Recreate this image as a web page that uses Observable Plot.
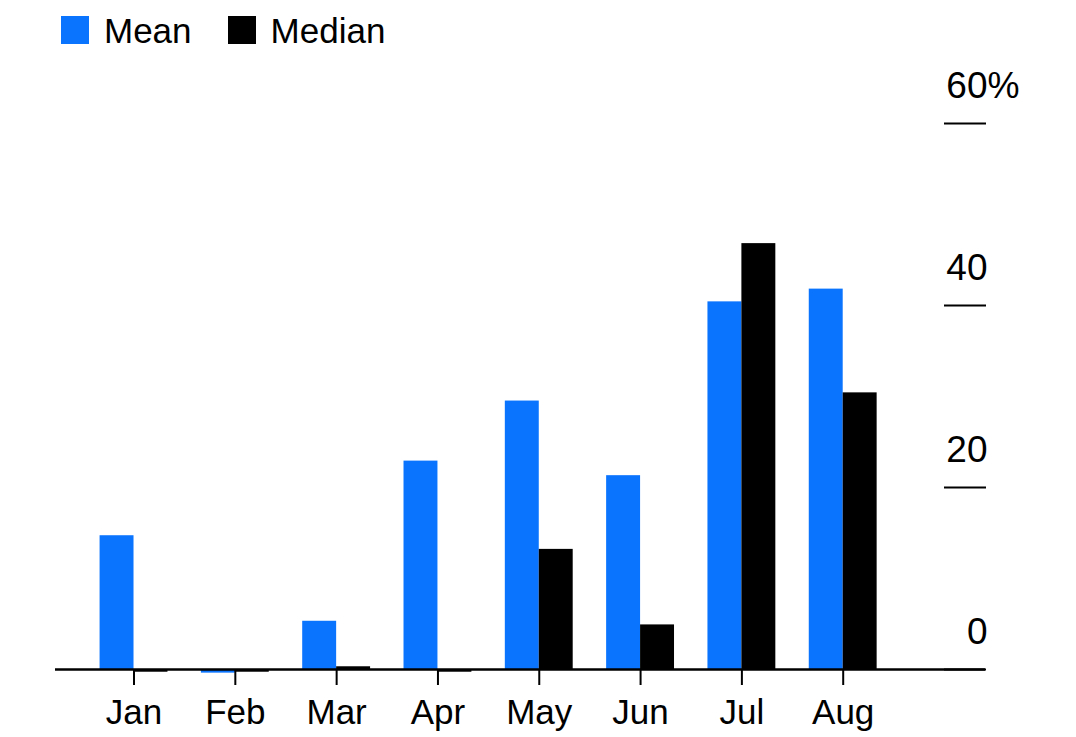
<!DOCTYPE html>
<html>
<head>
<meta charset="utf-8">
<script src="https://cdn.jsdelivr.net/npm/d3@7"></script>
<script src="https://cdn.jsdelivr.net/npm/@observablehq/plot@0.6"></script>
<style>
  body { margin: 0; background: #fff; font-family: "Liberation Sans", Arial, sans-serif; color: #000; }
  #legend { height: 60px; display: flex; align-items: center; padding-left: 61px; box-sizing: border-box; font-size: 35px; line-height: 1; }
  .item { display: flex; align-items: center; margin-right: 36px; }
  .swatch { width: 28px; height: 28px; margin-right: 15px; }
  #chart svg { display: block; }
</style>
</head>
<body>
<div id="legend"></div>
<div id="chart"></div>
<script>
const months = ["Jan", "Feb", "Mar", "Apr", "May", "Jun", "Jul", "Aug"];
const meanValues = [14.7, -0.4, 5.3, 22.9, 29.5, 21.3, 40.4, 41.8];
const medianValues = [-0.3, -0.3, 0.3, -0.3, 13.2, 4.9, 46.8, 30.4];
const seriesNames = ["Mean", "Median"];
const seriesColors = ["#0a74ff", "#000000"];
const yTicks = [0, 20, 40, 60];
const pctTick = [60];

const data = months.flatMap((m, i) => [
  {month: m, i, series: seriesNames[0], value: meanValues[i]},
  {month: m, i, series: seriesNames[1], value: medianValues[i]}
]);

// legend
const legend = document.getElementById("legend");
seriesNames.forEach((s, k) => {
  const it = document.createElement("div");
  it.className = "item";
  const sw = document.createElement("div");
  sw.className = "swatch";
  sw.style.background = seriesColors[k];
  const tx = document.createElement("span");
  tx.textContent = s;
  it.appendChild(sw); it.appendChild(tx);
  legend.appendChild(it);
});

const barWidth = 0.335;
const font = "'Liberation Sans', Arial, sans-serif";

const chart = Plot.plot({
  width: 1076,
  height: 677,
  marginTop: 63,
  marginBottom: 68,
  marginLeft: 55,
  marginRight: 133,
  style: {fontFamily: font, fontSize: "35px", color: "#000", background: "#fff"},
  x: {type: "linear", domain: [-0.775, 7.99]},
  y: {domain: [0, 60]},
  color: {domain: seriesNames, range: seriesColors},
  marks: [
    Plot.rectY(data, {
      x1: d => d.series === "Mean" ? d.i - barWidth : d.i,
      x2: d => d.series === "Mean" ? d.i : d.i + barWidth,
      y1: 0,
      y2: "value",
      fill: "series"
    }),
    Plot.ruleY([0], {stroke: "#000", strokeWidth: 2.5, insetRight: -42}),
    Plot.axisX(d3.range(months.length), {
      tickFormat: i => months[i], tickSize: 16, tickPadding: 14, strokeWidth: 2, fontSize: 35, label: null
    }),
    Plot.axisY(yTicks, {
      anchor: "right", tickSize: 42, strokeWidth: 2, tickFormat: () => "", label: null
    }),
    Plot.text(yTicks, {
      y: d => d, text: d => String(d), frameAnchor: "right", dx: 44, dy: -37,
      textAnchor: "end", fontSize: 37, fill: "#000"
    }),
    Plot.text(pctTick, {
      y: d => d, text: () => "%", frameAnchor: "right", dx: 44, dy: -37,
      textAnchor: "start", fontSize: 36, fill: "#000"
    })
  ]
});
document.getElementById("chart").appendChild(chart);
</script>
</body>
</html>
